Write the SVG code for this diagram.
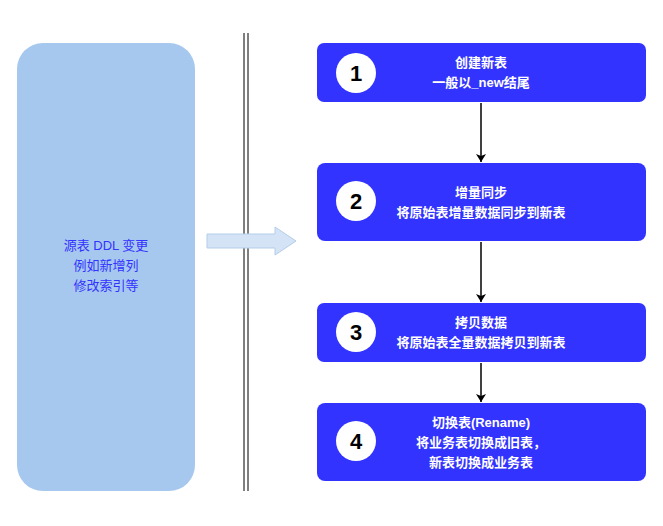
<svg xmlns="http://www.w3.org/2000/svg" width="663" height="526" viewBox="0 0 663 526">
<style>
.b{fill:#3333ff}
.c{fill:#fff}
.n{font-family:"Liberation Sans",sans-serif;font-weight:bold;font-size:22px;fill:#000;text-anchor:middle}
.t{font-family:"Liberation Sans","Noto Sans CJK SC",sans-serif;font-weight:bold;font-size:13px;fill:#fff;text-anchor:middle}
.l{font-family:"Liberation Sans","Noto Sans CJK SC",sans-serif;font-size:13px;fill:#3333ff;text-anchor:middle}
</style>
<defs><marker id="a" markerWidth="10" markerHeight="10" refX="9" refY="5" orient="auto" markerUnits="userSpaceOnUse"><path d="M1,0 L9,5 L1,10 L3,5 Z" fill="#000"/></marker></defs>
<rect width="663" height="526" fill="#fff"/>
<g id="src"><rect x="17" y="43" width="178" height="448" rx="26" fill="#a6c8ee"/>
<text class="l" x="106" y="250">源表 DDL 变更</text><text class="l" x="106" y="270">例如新增列</text><text class="l" x="106" y="290">修改索引等</text></g>
<g id="sep"><line x1="244" y1="33" x2="244" y2="491" stroke="#000"/><line x1="248" y1="33" x2="248" y2="491" stroke="#000"/></g>
<g id="bigarrow"><path d="M207,234 H275 V227 L296,241 L275,255 V248 H207 Z" fill="#d4e3f5" stroke="#b3cdea"/></g>
<g id="s1"><rect class="b" x="317" y="43" width="329" height="59" rx="7"/><circle class="c" cx="356" cy="73" r="20"/><text class="n" x="356" y="81">1</text>
<text class="t" x="481" y="67">创建新表</text><text class="t" x="481" y="87">一般以_new结尾</text></g>
<g id="s2"><rect class="b" x="317" y="163" width="329" height="78" rx="8"/><circle class="c" cx="356" cy="201" r="20"/><text class="n" x="356" y="209">2</text>
<text class="t" x="481" y="197">增量同步</text><text class="t" x="481" y="217">将原始表增量数据同步到新表</text></g>
<g id="s3"><rect class="b" x="317" y="303" width="329" height="59" rx="7"/><circle class="c" cx="356" cy="332" r="20"/><text class="n" x="356" y="340">3</text>
<text class="t" x="481" y="327">拷贝数据</text><text class="t" x="481" y="347">将原始表全量数据拷贝到新表</text></g>
<g id="s4"><rect class="b" x="317" y="403" width="329" height="78" rx="8"/><circle class="c" cx="356" cy="441" r="20"/><text class="n" x="356" y="449">4</text>
<text class="t" x="481" y="427">切换表(Rename)</text><text class="t" x="481" y="447">将业务表切换成旧表，</text><text class="t" x="481" y="467">新表切换成业务表</text></g>
<g id="connectors" stroke="#000" stroke-width="1.5">
<line x1="481" y1="103" x2="481" y2="162" marker-end="url(#a)"/>
<line x1="481" y1="242" x2="481" y2="302" marker-end="url(#a)"/>
<line x1="481" y1="363" x2="481" y2="402" marker-end="url(#a)"/>
</g>
</svg>
